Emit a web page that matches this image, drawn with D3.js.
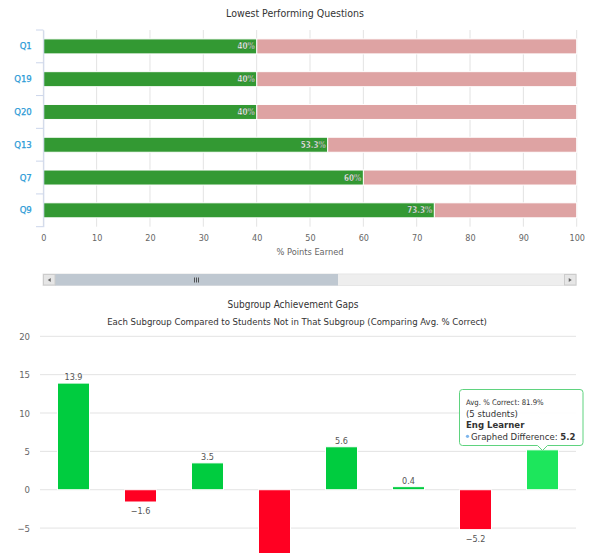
<!DOCTYPE html>
<html lang="en">
<head>
<meta charset="UTF-8">
<script src="https://d3js.org/d3.v7.min.js"></script>
<title>question_gaps</title>
<style>
body { margin: 0; background: #fff; }
svg text { font-family: "DejaVu Sans Condensed", "DejaVu Sans", sans-serif; font-stretch: condensed; }
</style>
</head>
<body>
<script type="text/javascript">

// top chart data
var questions    = ["Q1", "Q19", "Q20", "Q13", "Q7", "Q9"];
var pointsEarned = [40, 40, 40, 53.3, 60, 73.3];
var pctTicks     = [0, 10, 20, 30, 40, 50, 60, 70, 80, 90, 100];

// bottom chart data (one bar per subgroup)
var gapValues = [13.9, -1.6, 3.5, -9.8, 5.6, 0.4, -5.2, 5.2];
var gapTicks  = [-5, 0, 5, 10, 15, 20];

// hovered point tooltip
var hoverIndex    = 7;
var hoverName     = "Eng Learner";
var hoverAvg      = "81.9%";
var hoverStudents = 5;

var width = 600, height = 553;

var svg = d3.select("body").append("svg").attr("width", width).attr("height", height);

// ---------- Lowest Performing Questions ----------
var x = d3.scaleLinear().domain([0, 100]).range([43.3, 576.7]);
var y = d3.scaleBand().domain(questions).range([30, 226.7]);

svg.append("text").attr("x", 295).attr("y", 17).attr("text-anchor", "middle")
	.attr("font-size", 10.5).attr("fill", "#333").text("Lowest Performing Questions");

svg.append("g").selectAll("line").data(pctTicks).enter().append("line")
	.attr("x1", function(d) { return x(d); }).attr("x2", function(d) { return x(d); })
	.attr("y1", 30).attr("y2", 226.7)
	.attr("stroke", "#e3e3e3").attr("stroke-width", 1);

var rows = svg.append("g").selectAll("g").data(questions).enter().append("g");

// remainder of 100%
rows.append("rect")
	.attr("x", function(d, i) { return x(pointsEarned[i]); })
	.attr("y", function(d) { return y(d) + y.bandwidth() / 2 - 7.5; })
	.attr("width", function(d, i) { return x(100) - x(pointsEarned[i]); })
	.attr("height", 15)
	.attr("fill", "#dea3a3").attr("stroke", "#fff").attr("stroke-width", 1);

rows.append("rect")
	.attr("x", x(0))
	.attr("y", function(d) { return y(d) + y.bandwidth() / 2 - 7.5; })
	.attr("width", function(d, i) { return x(pointsEarned[i]) - x(0); })
	.attr("height", 15)
	.attr("fill", "#339933").attr("stroke", "#fff").attr("stroke-width", 1);

rows.append("text")
	.attr("x", function(d, i) { return x(pointsEarned[i]) - 2; })
	.attr("y", function(d) { return y(d) + y.bandwidth() / 2 + 3; })
	.attr("text-anchor", "end").attr("font-size", 8).attr("font-weight", "bold")
	.attr("fill", "#fff").attr("stroke", "#1d5a1d").attr("stroke-width", 0.3)
	.text(function(d, i) { return pointsEarned[i] + "%"; });

// left category axis
var yAxis = d3.axisLeft(y).tickSize(0).tickPadding(11.5);
var yg = svg.append("g").attr("transform", "translate(43.3,0)").call(yAxis);
yg.select(".domain").attr("stroke", "#ccd6eb");
yg.selectAll("text").attr("font-size", 9.5).attr("fill", "#2a9ad6").attr("font-family", null)
	.attr("stroke", "#2a9ad6").attr("stroke-width", 0.25);
svg.append("g").selectAll("line").data(d3.range(questions.length + 1)).enter().append("line")
	.attr("x1", 36).attr("x2", 43.3)
	.attr("y1", function(d) { return 30 + d * y.step(); })
	.attr("y2", function(d) { return 30 + d * y.step(); })
	.attr("stroke", "#ccd6eb");

var xAxis = d3.axisBottom(x).tickValues(pctTicks).tickSize(0).tickPadding(8);
var xg = svg.append("g").attr("transform", "translate(0,226.7)").call(xAxis);
xg.select(".domain").remove();
xg.selectAll("text").attr("font-size", 9).attr("fill", "#666").attr("font-family", null);

svg.append("text").attr("x", 310).attr("y", 254.5).attr("text-anchor", "middle")
	.attr("font-size", 9.2).attr("fill", "#666").text("% Points Earned");

// scrollbar
var sb = svg.append("g");
sb.append("rect").attr("x", 43).attr("y", 274).attr("width", 533).attr("height", 11.5)
	.attr("fill", "#eeeeee").attr("stroke", "#e6e6e6");
sb.append("rect").attr("x", 55).attr("y", 274).attr("width", 283).attr("height", 11.5)
	.attr("fill", "#bfc8d1");
[43, 564].forEach(function(bx, k) {
	sb.append("rect").attr("x", bx + 0.5).attr("y", 274.5).attr("width", 11.5).attr("height", 10.5)
		.attr("fill", "#e6e6e6").attr("stroke", "#cccccc");
	var cx = bx + 6.25, cy = 280;
	var pts = k == 0 ? [[cx + 1.5, cy - 2], [cx + 1.5, cy + 2], [cx - 1.5, cy]]
	                 : [[cx - 1.5, cy - 2], [cx - 1.5, cy + 2], [cx + 1.5, cy]];
	sb.append("path").attr("d", "M" + pts.join("L") + "Z").attr("fill", "#666");
});
[-2, 0, 2].forEach(function(o) {
	sb.append("line").attr("x1", 196.5 + o).attr("x2", 196.5 + o).attr("y1", 277.5).attr("y2", 282.5)
		.attr("stroke", "#333").attr("stroke-width", 0.8);
});

// ---------- Subgroup Achievement Gaps ----------
var gx = d3.scaleBand().domain(d3.range(gapValues.length)).range([40, 576]).padding(0);
var gy = d3.scaleLinear().domain([-15, 20]).range([604.8, 336.3]);

svg.append("text").attr("x", 293).attr("y", 308).attr("text-anchor", "middle")
	.attr("font-size", 10).attr("fill", "#333").text("Subgroup Achievement Gaps");
svg.append("text").attr("x", 297).attr("y", 325).attr("text-anchor", "middle")
	.attr("font-size", 9.5).attr("fill", "#333")
	.text("Each Subgroup Compared to Students Not in That Subgroup (Comparing Avg. % Correct)");

svg.append("g").selectAll("line").data(gapTicks).enter().append("line")
	.attr("x1", 40).attr("x2", 576)
	.attr("y1", function(d) { return gy(d); }).attr("y2", function(d) { return gy(d); })
	.attr("stroke", "#e3e3e3");

var gyAxis = d3.axisLeft(gy).tickValues(gapTicks).tickSize(0).tickPadding(0);
var gyg = svg.append("g").attr("transform", "translate(30,0)").call(gyAxis);
gyg.select(".domain").remove();
gyg.selectAll("text").attr("font-size", 9.5).attr("fill", "#666").attr("font-family", null);

var barW = 32;
svg.append("g").selectAll("rect").data(gapValues).enter().append("rect")
	.attr("x", function(d, i) { return gx(i) + gx.bandwidth() / 2 - barW / 2; })
	.attr("y", function(d) { return gy(Math.max(0, d)); })
	.attr("width", barW)
	.attr("height", function(d) { return Math.abs(gy(d) - gy(0)); })
	.attr("fill", function(d, i) { return i == hoverIndex ? "#1de65c" : (d >= 0 ? "#00cc3f" : "#ff0022"); })
	.attr("stroke", "#fff").attr("stroke-width", 1);

// value labels (skip the one below the visible area and the one under the tooltip)
var labelY = function(d) { return d >= 0 ? gy(d) - 3 : gy(d) + 12; };
svg.append("g").selectAll("text")
	.data(gapValues.map(function(v, i) { return { v: v, i: i }; })
		.filter(function(o) { return labelY(o.v) < height && o.i != hoverIndex; }))
	.enter().append("text")
	.attr("x", function(o) { return gx(o.i) + gx.bandwidth() / 2; })
	.attr("y", function(o) { return labelY(o.v); })
	.attr("text-anchor", "middle").attr("font-size", 9).attr("fill", "#555")
	.text(function(o) { return d3.format(".1f")(o.v); });

// tooltip
var tx = 459.5, ty = 389.5, tw = 123.5, th = 56;
var px = gx(hoverIndex) + gx.bandwidth() / 2;
var tip = svg.append("g");
tip.append("path")
	.attr("d", "M" + (tx + 3) + "," + ty + "H" + (tx + tw - 3) + "Q" + (tx + tw) + "," + ty + " " + (tx + tw) + "," + (ty + 3)
		+ "V" + (ty + th - 3) + "Q" + (tx + tw) + "," + (ty + th) + " " + (tx + tw - 3) + "," + (ty + th)
		+ "H" + (px + 5) + "L" + px + "," + (ty + th + 5) + "L" + (px - 5) + "," + (ty + th)
		+ "H" + (tx + 3) + "Q" + tx + "," + (ty + th) + " " + tx + "," + (ty + th - 3)
		+ "V" + (ty + 3) + "Q" + tx + "," + ty + " " + (tx + 3) + "," + ty + "Z")
	.attr("fill", "rgba(255,255,255,0.9)").attr("stroke", "#5fd37f").attr("stroke-width", 1);
tip.append("text").attr("x", 466).attr("y", 405).attr("font-size", 7.7).attr("fill", "#333")
	.text("Avg. % Correct: " + hoverAvg);
tip.append("text").attr("x", 466).attr("y", 416.8).attr("font-size", 9.5).attr("fill", "#333")
	.text("(" + hoverStudents + " students)");
tip.append("text").attr("x", 466).attr("y", 428.3).attr("font-size", 9.5).attr("font-weight", "bold").attr("fill", "#333")
	.text(hoverName);
tip.append("circle").attr("cx", 467.5).attr("cy", 436.3).attr("r", 1.6).attr("fill", "#7cb5ec");
var lastLine = tip.append("text").attr("x", 471).attr("y", 439.5).attr("font-size", 9.5).attr("fill", "#333");
lastLine.append("tspan").text("Graphed Difference: ");
lastLine.append("tspan").attr("font-weight", "bold").text(d3.format(".1f")(gapValues[hoverIndex]));

</script>
</body>
</html>
